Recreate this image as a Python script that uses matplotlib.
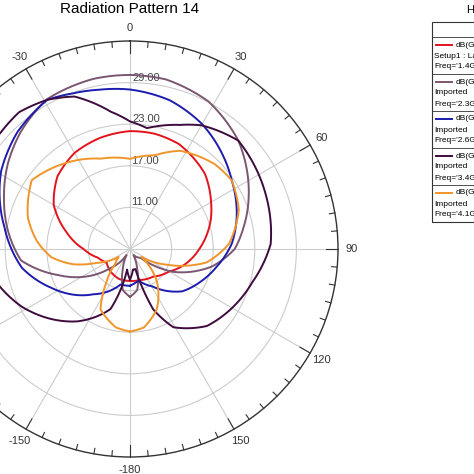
import numpy as np
import matplotlib.pyplot as plt
from matplotlib.lines import Line2D
from matplotlib.patches import Rectangle

plt.rcParams['font.family'] = ['Liberation Sans', 'DejaVu Sans']

# gain curves in dB, angle in degrees (0 at top, clockwise)
red_ang = [-180, -160, -140, -120, -105, -90, -75, -60, -45, -30, -15, 0, 12, 25, 45, 60, 70, 90, 105, 120, 140, 162, 180]
red_db = [9.6, 9.6, 9.3, 8.9, 9.8, 11.7, 14.5, 17.7, 19.8, 21.0, 21.6, 22.0, 22.0, 21.7, 20.3, 18.5, 17.4, 15.0, 13.3, 11.5, 10.2, 9.7, 9.6]

orange_ang = [-180, -170, -154, -145, -135, -125, -113, -105, -96, -85, -73, -55, -38, -18, 0, 15, 27, 45, 56, 70, 87, 100, 113, 125, 140, 156, 170, 180]
orange_db = [16.9, 16.5, 14.7, 11.0, 8.0, 7.0, 10.1, 13.5, 16.4, 18.5, 20.4, 22.3, 20.6, 18.7, 18.0, 19.0, 20.9, 22.3, 22.7, 21.7, 19.3, 16.2, 10.8, 7.0, 11.0, 14.5, 16.5, 16.9]

blue_ang = [-180, -165, -141, -130, -116, -100, -80, -59, -44, -29, -20, -11, 0, 15, 30, 45, 56, 73, 87, 102, 115, 129, 149, 165, 180]
blue_db = [10.3, 10.3, 13.4, 15.3, 17.7, 20.8, 23.4, 26.7, 28.4, 29.6, 28.9, 28.4, 28.0, 27.2, 25.8, 24.0, 22.7, 21.1, 19.7, 17.7, 16.2, 14.7, 11.3, 9.7, 10.3]

mauve_ang = [-180, -170, -160, -150, -134, -122, -110, -96, -80, -68, -55, -43, -29, -12, 0, 12, 28, 45, 65, 79, 90, 102, 118, 130, 150, 160, 170]
mauve_db = [11.9, 11.0, 8.0, 6.0, 9.0, 12.5, 16.0, 20.8, 23.0, 24.6, 26.5, 28.1, 29.7, 30.1, 30.1, 30.0, 29.1, 27.1, 23.9, 21.7, 20.1, 17.1, 12.0, 7.0, 6.0, 8.0, 11.0]

dark_ang = [-180, -172, -162, -144, -130, -118, -107, -90, -70, -55, -48, -39, -29, -20, -8, 0, 8, 22, 30, 45, 68, 88, 105, 120, 135, 151, 159, 165, 172]
dark_db = [9.4, 8.0, 14.1, 17.9, 20.5, 22.7, 24.4, 27.0, 29.0, 30.0, 30.1, 30.4, 29.6, 28.4, 25.0, 23.4, 22.6, 24.3, 25.6, 27.1, 26.1, 25.3, 23.3, 22.0, 20.7, 17.9, 14.3, 8.0, 8.0]

series = [
    (red_ang, red_db, "#e3121b"),
    (mauve_ang, mauve_db, "#7b5670"),
    (blue_ang, blue_db, "#1c1cae"),
    (dark_ang, dark_db, "#3d0b3d"),
    (orange_ang, orange_db, "#f0952a"),
]

legend_rows = [
    ("#e3121b", "Setup1 : LastAdaptive", "Freq='1.4GHz'"),
    ("#7b5670", "Imported", "Freq='2.3GHz'"),
    ("#1c1cae", "Imported", "Freq='2.6GHz'"),
    ("#3d0b3d", "Imported", "Freq='3.4GHz'"),
    ("#f0952a", "Imported", "Freq='4.1GHz'"),
]

W = H = 474
fig = plt.figure(figsize=(4.74, 4.74), dpi=100)
cx, cy, R = 130, 249, 208
ax = fig.add_axes([(cx - R) / W, 1 - (cy + R) / H, 2 * R / W, 2 * R / H], projection="polar")
ax.set_theta_zero_location("N")
ax.set_theta_direction(-1)
ax.set_rlim(5, 35)
ax.set_rticks([11, 17, 23, 29])
ax.set_yticklabels(["11.00", "17.00", "23.00", "29.00"], fontsize=8, color="#444444")
ax.set_rlabel_position(1)
ticks = np.arange(0, 360, 30)
labs = ["0", "30", "60", "90", "120", "150", "-180", "-150", "-120", "-90", "-60", "-30"]
ax.set_thetagrids(ticks, labs, fontsize=8, color="#333333")
ax.tick_params(axis="x", pad=-1)
ax.grid(color="#cccccc", linewidth=0.8)
ax.spines["polar"].set_color("#333333")
ax.spines["polar"].set_linewidth(1.0)

# outer ring tick marks
for a in range(0, 360, 5):
    t = np.deg2rad(a)
    inner = 33.3 if a % 30 == 0 else 34.2
    ax.plot([t, t], [inner, 35], color="#333333", lw=0.8, clip_on=False)

for ang, db, col in series:
    th = np.deg2rad(np.array(ang + [ang[0] + 360]))
    r = np.array(db + [db[0]])
    ln, = ax.plot(th, r, color=col, lw=1.4)
    ln.get_path()._interpolation_steps = 30  # draw segments as arcs in polar space

fig.text(cx / W, 1 - 9 / H, "Radiation Pattern 14", ha="center", va="center", fontsize=11)

# legend box
bx, top, hdr, row = 432, 22, 37, 37
fig.patches.append(Rectangle((bx / W, 1 - (hdr + 5 * row) / H), (W - bx + 5) / W, (hdr + 5 * row - top) / H,
                             transform=fig.transFigure, fill=False, ec="#333333", lw=0.8))
fig.text(466 / W, 1 - 10 / H, "HFSSDesign1", fontsize=8, va="center")
for i in range(6):
    y = hdr + i * row
    fig.add_artist(Line2D([bx / W, 1], [1 - y / H] * 2, color="#333333", lw=0.6))
for i, (col, l1, l2) in enumerate(legend_rows):
    y0 = hdr + i * row
    fig.add_artist(Line2D([(bx + 4) / W, (bx + 20) / W], [1 - (y0 + 8) / H] * 2, color=col, lw=1.4))
    fig.text((bx + 24) / W, 1 - (y0 + 8) / H, "dB(GainTotal)", fontsize=6, va="center")
    fig.text((bx + 2) / W, 1 - (y0 + 19) / H, l1, fontsize=6, va="center")
    fig.text((bx + 2) / W, 1 - (y0 + 30) / H, l2, fontsize=6, va="center")

fig.savefig("out.png", dpi=100)
